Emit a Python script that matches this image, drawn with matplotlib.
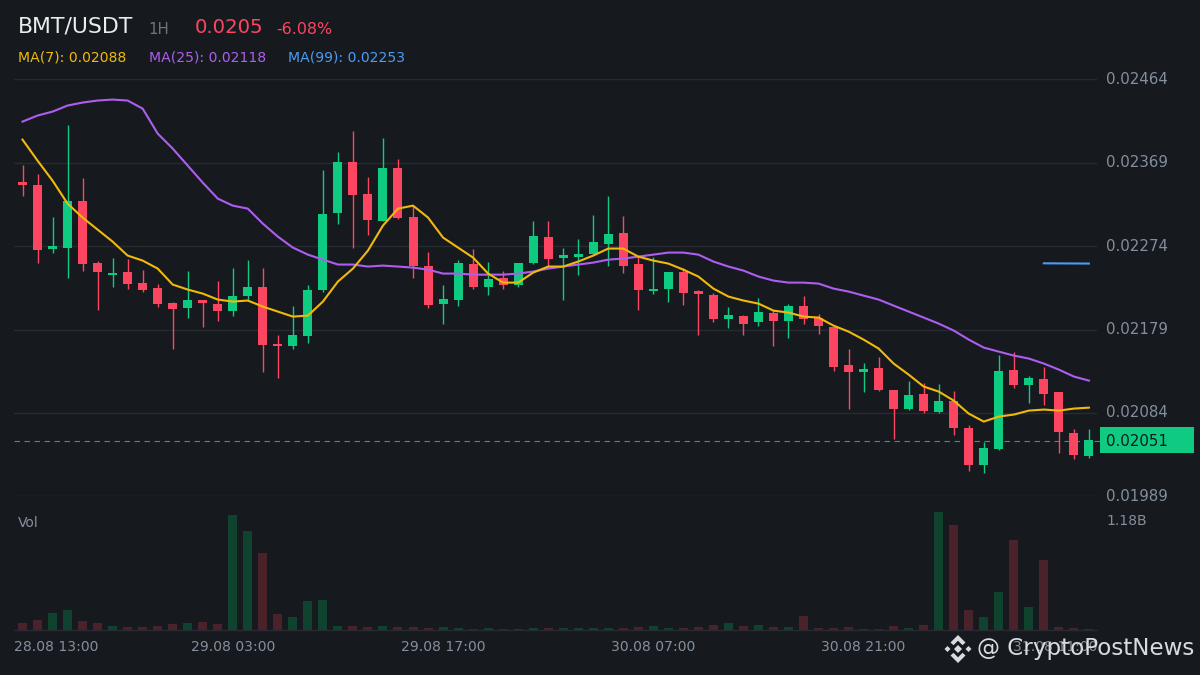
import numpy as np
import matplotlib
matplotlib.use("Agg")
import matplotlib.pyplot as plt
from matplotlib.patches import Polygon, Rectangle

# Prices are given in units of 1e-5 USDT
highs = [2366.8,2356.6,2307.6,2412.4,2352.0,2257.5,2260.9,2259.8,2247.2,2231.3,2210.8,2246.1,2213.1,2234.7,2249.5,2258.6,2249.5,2173.2,2206.2,2230.2,
         2361.1,2381.6,2405.6,2353.2,2397.6,2373.7,2320.1,2267.7,2230.2,2258.6,2271.2,2256.4,2246.1,2255.2,2303.1,2303.1,2272.3,2282.6,2309.9,2331.5,
         2308.7,2262.0,2262.0,2244.9,2249.5,2224.5,2221.0,2205.1,2196.0,2215.4,2201.7,2208.5,2217.6,2197.1,2182.3,2157.3,2141.3,2148.1,2110.6,2120.8,
         2118.5,2117.4,2109.4,2070.7,2051.3,2150.4,2153.8,2126.5,2136.8,2108.3,2066.1,2066.1]
body_tops = [2347.5,2344.0,2273.8,2325.8,2325.8,2255.2,2243.8,2244.9,2232.4,2226.7,2209.7,2213.1,2213.1,2208.5,2217.6,2227.9,2227.9,2163.0,2173.2,2224.5,
             2311.0,2370.3,2370.3,2333.8,2363.4,2363.4,2307.6,2251.8,2214.2,2255.2,2254.1,2237.0,2238.1,2255.2,2286.0,2284.8,2264.3,2265.5,2279.1,2288.2,
             2289.4,2254.1,2225.6,2244.9,2244.9,2223.3,2218.8,2196.0,2194.8,2199.4,2198.3,2206.2,2206.2,2192.6,2182.3,2139.0,2134.5,2135.6,2110.6,2104.9,
             2106.0,2098.0,2098.0,2067.3,2044.5,2132.2,2133.3,2124.2,2123.1,2108.3,2061.6,2053.6]
body_bottoms = [2344.0,2270.0,2271.2,2272.3,2254.1,2244.9,2241.5,2231.3,2224.5,2208.5,2202.8,2204.0,2209.7,2200.5,2200.5,2217.6,2161.8,2160.7,2160.7,2172.1,
                2224.5,2312.2,2332.7,2304.2,2303.1,2306.5,2251.8,2207.4,2208.5,2213.1,2227.9,2227.9,2230.2,2230.2,2255.2,2259.8,2260.9,2262.0,2265.5,2276.9,
                2251.8,2224.5,2223.3,2225.6,2221.0,2219.9,2191.4,2191.4,2185.7,2188.0,2189.1,2189.1,2191.4,2183.4,2136.8,2131.1,2131.1,2110.6,2088.9,2088.9,
                2086.6,2085.5,2067.3,2025.1,2025.1,2043.3,2116.2,2116.2,2106.0,2062.7,2036.5,2035.4]
lows = [2331.5,2255.2,2266.6,2238.1,2246.1,2201.7,2227.9,2225.6,2222.2,2205.1,2157.3,2192.6,2182.3,2189.1,2194.8,2212.0,2131.1,2124.2,2157.3,2164.1,
        2222.2,2299.6,2272.3,2287.1,2303.1,2305.3,2238.1,2204.0,2185.7,2206.2,2225.6,2218.8,2225.6,2227.9,2254.1,2250.7,2213.1,2241.5,2265.5,2251.8,
        2243.8,2201.7,2219.9,2210.8,2207.4,2173.2,2188.0,2181.2,2173.2,2183.4,2160.7,2169.8,2185.7,2174.3,2132.2,2088.9,2108.3,2109.4,2054.7,2087.8,
        2084.3,2084.3,2059.3,2018.3,2016.0,2042.2,2112.8,2095.7,2093.5,2038.8,2032.0,2033.1]
directions = "RRGGRRGRRRRGRRGGRRGG" "GGRRGRRRGGRGRGGRGGGG" "RRGGRRRGRGRGRRRRGRRG" "RGRRGGRGRRRG"
ma7 = [2395.3,2371.4,2348.6,2322.4,2306.5,2292.8,2279.1,2263.2,2257.5,2248.4,2230.2,2224.5,2219.9,2213.1,2210.8,2212.0,2205.1,2199.4,2193.7,2194.8,
       2210.8,2233.6,2248.4,2268.9,2297.4,2316.7,2320.1,2306.5,2283.7,2272.3,2260.9,2242.7,2232.4,2232.4,2243.8,2250.7,2250.7,2256.4,2263.2,2271.2,
       2271.2,2262.0,2257.5,2254.1,2247.2,2239.3,2225.6,2216.5,2212.0,2208.5,2200.5,2198.3,2193.7,2192.6,2183.4,2176.6,2167.5,2157.3,2140.2,2127.6,
       2114.0,2108.3,2098.0,2083.2,2074.1,2079.8,2082.1,2086.6,2087.8,2086.6,2088.9,2090.0]
ma25 = [2415.8,2422.7,2427.2,2434.1,2437.5,2439.8,2440.9,2439.8,2430.6,2402.2,2385.1,2365.7,2346.3,2328.1,2320.1,2316.7,2299.6,2284.8,2272.3,2264.3,
        2258.6,2253.0,2253.0,2250.7,2251.8,2250.7,2249.5,2247.2,2242.7,2242.7,2241.5,2241.5,2241.5,2242.7,2245.0,2248.4,2250.7,2253.0,2255.2,2258.6,
        2259.8,2262.0,2264.3,2266.6,2266.6,2264.3,2256.4,2250.7,2246.1,2239.3,2234.7,2232.4,2232.4,2231.3,2225.6,2222.2,2217.6,2213.1,2206.2,2199.4,
        2192.6,2185.7,2177.8,2167.5,2158.4,2153.8,2149.3,2145.9,2140.2,2133.3,2125.4,2120.8]
ma99_index = [68, 69, 70, 71]
ma99 = [2254.4, 2254.3, 2254.2, 2254.1]
# Volume in millions
volumes = [73,103,173,203,93,73,43,33,33,43,63,73,83,63,1153,993,773,163,133,293,
           303,43,43,33,43,33,33,23,33,23,13,23,13,10,23,23,23,23,23,23,
           23,33,43,23,23,33,53,73,43,53,33,33,143,23,23,33,13,13,43,23,
           53,1183,1053,203,133,383,903,233,703,33,23,13]
y_ticks = [0.02464, 0.02369, 0.02274, 0.02179, 0.02084, 0.01989]
tick_index = [0, 14, 28, 42, 56, 70]
tick_labels = ["28.08 13:00", "29.08 03:00", "29.08 17:00", "30.08 07:00", "30.08 21:00", "31.08 11:00"]
last_line = 0.02052
last_label = "0.02051"

BG, GRID, MUTED = "#161a1f", "#272b31", "#848e9c"
UP, DOWN = "#0ecb81", "#fc4560"
VUP, VDOWN = "#10432f", "#4a2229"
M7, M25, M99 = "#f0b90b", "#ad5ef0", "#4a9cf5"
S = 1e-5
W, H = 1200, 675

plt.rcParams["font.family"] = "DejaVu Sans"
fig = plt.figure(figsize=(12, 6.75), dpi=100, facecolor=BG)

def px_axes(l, t, r, b):
    a = fig.add_axes([l / W, 1 - b / H, (r - l) / W, (b - t) / H], facecolor="none")
    for s in a.spines.values():
        s.set_visible(False)
    return a

def label(x, y, s, color, size, **kw):
    kw.setdefault("va", "center")
    return fig.text(x / W, 1 - y / H, s, color=color, fontsize=size, **kw)

idx = np.arange(len(highs))
up = np.array([c == "G" for c in directions])
colors = [UP if u else DOWN for u in up]
xlim = (-0.566, 71.54)

ax = px_axes(14, 79.3, 1097, 496.3)
ax.set_xlim(*xlim)
ax.set_ylim(y_ticks[-1], y_ticks[0])
ax.set_xticks([])
ax.set_yticks(y_ticks)
ax.tick_params(left=False, right=False, labelleft=False, labelright=False)
ax.grid(axis="y", color=GRID, lw=1, zorder=0)
ax.set_axisbelow(True)

h, l_ = np.array(highs) * S, np.array(lows) * S
t, b = np.array(body_tops) * S, np.array(body_bottoms) * S
ax.vlines(idx, l_, h, colors=colors, lw=1.0, zorder=2)
ax.bar(idx, np.maximum(t - b, 2e-5), bottom=b, width=0.6, color=colors, lw=0, zorder=3)
ax.plot(idx, np.array(ma25) * S, color=M25, lw=1.5, zorder=4, clip_on=False)
ax.plot(idx, np.array(ma7) * S, color=M7, lw=1.5, zorder=5, clip_on=False)
ax.plot(ma99_index, np.array(ma99) * S, color=M99, lw=1.5, zorder=5)
ax.plot([xlim[0], 71.74], [last_line, last_line], color="#2f9a76", lw=0.8,
        dashes=(5, 4), zorder=1, clip_on=False)

for v in y_ticks:
    ax.annotate(f"{v:.5f}", (1, v), xycoords=("axes fraction", "data"), xytext=(6.5, 0),
                textcoords="offset points", color=MUTED, fontsize=10.8, va="center",
                annotation_clip=False)

fig.add_artist(Rectangle((1100 / W, 1 - 453 / H), 94 / W, 26 / H, transform=fig.transFigure,
                         facecolor=UP, edgecolor="none"))
label(1106, 441.5, last_label, "#131a1c", 10.8)

vax = px_axes(14, 511.7, 1097, 630)
vax.bar(idx, volumes, width=0.6, color=[VUP if u else VDOWN for u in up], lw=0)
vax.set_ylim(0, max(volumes))
vax.spines["bottom"].set_visible(True)
vax.spines["bottom"].set_color(GRID)
vax.spines["bottom"].set_linewidth(1)
vax.set_yticks([])
# the first and last labels are held inside the plot edges
positions = [xlim[0]] + tick_index[1:-1] + [xlim[1]]
vax.set_xticks(positions)
vax.set_xticklabels(tick_labels, color=MUTED, fontsize=10.1)
vax.get_xticklabels()[0].set_ha("left")
vax.get_xticklabels()[-1].set_ha("right")
vax.tick_params(axis="x", length=0, pad=7)
vax.set_xlim(*xlim)

label(18, 523, "Vol", MUTED, 10)
label(1106, 521, "1.18B", MUTED, 10)

label(18, 27, "BMT/USDT", "#eaecef", 15.8)
label(148, 30, "1H", "#6b7480", 10.8)
label(195, 27.5, "0.0205", DOWN, 14.2)
label(276, 29, "-6.08%", DOWN, 11.4)
label(18, 57.5, "MA(7): 0.02088", M7, 10.1)
label(149, 57.5, "MA(25): 0.02118", M25, 10.1)
label(288, 57.5, "MA(99): 0.02253", M99, 10.1)

# Watermark: diamond logo and handle
WM = "#d8dbdf"
cx, cy = 958, 649
def poly(points):
    pts = [((cx + dx) / W, 1 - (cy + dy) / H) for dx, dy in points]
    fig.add_artist(Polygon(pts, closed=True, transform=fig.transFigure, facecolor=WM,
                           edgecolor="none", zorder=20))
poly([(0, -4), (4, 0), (0, 4), (-4, 0)])
poly([(-13.5, 0), (-10.5, -3), (-7.5, 0), (-10.5, 3)])
poly([(13.5, 0), (10.5, -3), (7.5, 0), (10.5, 3)])
poly([(0, -14), (7.5, -6.5), (4.5, -3.8), (0, -8.3), (-4.5, -3.8), (-7.5, -6.5)])
poly([(0, 14), (7.5, 6.5), (4.5, 3.8), (0, 8.3), (-4.5, 3.8), (-7.5, 6.5)])
label(977, 649, "@ CryptoPostNews", WM, 16.6, zorder=20)

fig.savefig("out.png", dpi=100, facecolor=BG)
